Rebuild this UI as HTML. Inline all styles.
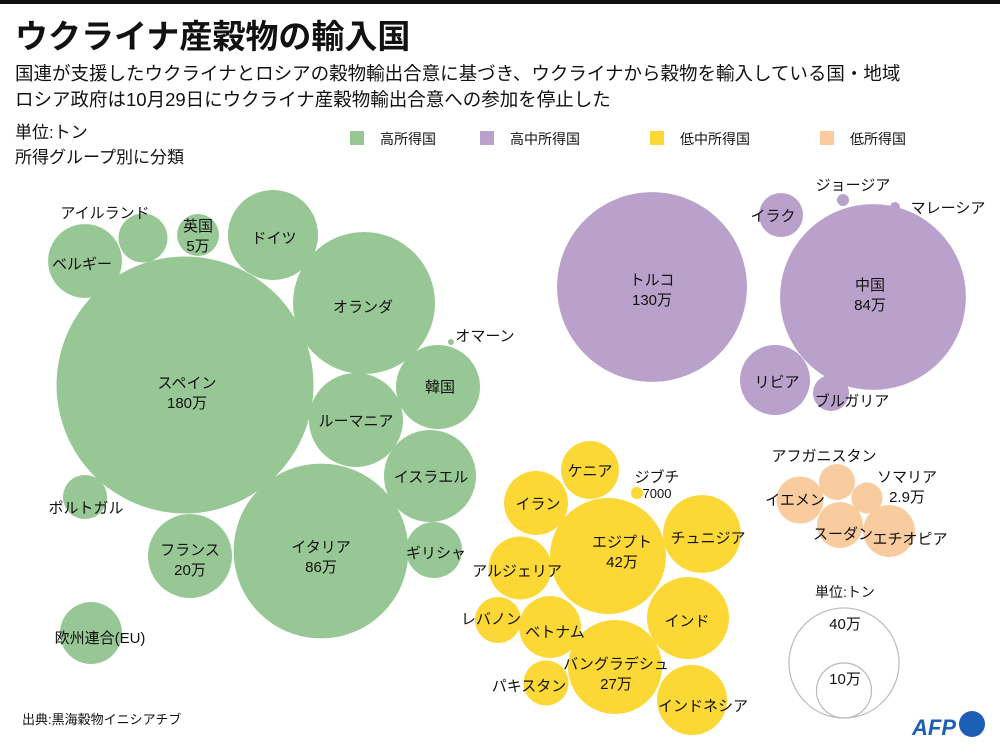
<!DOCTYPE html>
<html><head><meta charset="utf-8"><style>
body{margin:0;background:#fff;width:1000px;height:747px;overflow:hidden;font-family:"Liberation Sans","Noto Sans CJK JP",sans-serif;position:relative}
.t{position:absolute;white-space:nowrap;color:#111}
</style></head><body>
<div style="position:absolute;left:0;top:0;width:1000px;height:4px;background:#111"></div>
<div class="t" style="left:15px;top:10px;font-size:33px;font-weight:bold">ウクライナ産穀物の輸入国</div>
<div class="t" style="left:15px;top:60px;font-size:18.5px">国連が支援したウクライナとロシアの穀物輸出合意に基づき、ウクライナから穀物を輸入している国・地域</div>
<div class="t" style="left:15px;top:86px;font-size:18.5px">ロシア政府は10月29日にウクライナ産穀物輸出合意への参加を停止した</div>
<div class="t" style="left:15px;top:118px;font-size:17px">単位:トン</div>
<div class="t" style="left:15px;top:143px;font-size:17px">所得グループ別に分類</div>
<div class="t" style="left:22px;top:709px;font-size:13px">出典:黒海穀物イニシアチブ</div>
<svg id="chart" width="1000" height="747" style="position:absolute;left:0;top:0" font-family="Liberation Sans, Noto Sans CJK JP, sans-serif"></svg>
<script>
const names=["アイルランド","英国","ベルギー","ドイツ","オランダ","オマーン","スペイン","韓国","ルーマニア","イスラエル","ポルトガル","フランス","イタリア","ギリシャ","欧州連合(EU)","トルコ","イラク","ジョージア","マレーシア","中国","リビア","ブルガリア","ケニア","イラン","ジブチ","エジプト","チュニジア","アルジェリア","インド","レバノン","ベトナム","バングラデシュ","パキスタン","インドネシア","アフガニスタン","イエメン","ソマリア","スーダン","エチオピア"];
const groups=[0,0,0,0,0,0,0,0,0,0,0,0,0,0,0,1,1,1,1,1,1,1,2,2,2,2,2,2,2,2,2,2,2,2,3,3,3,3,3];
const values=[7.9,5.8,18,26.8,66.6,0.12,218,23.3,29.2,28,6.4,23.3,101,10.4,12.7,119,6.4,0.48,0.33,114,16.2,4.3,11.1,13.5,0.48,44.4,20,13.1,22.2,7,12.7,29.2,6.7,16.2,4.3,7.3,3.2,7,8.9];
const valueLabels=["","5万","","","","","180万","","","","","20万","86万","","","130万","","","","84万","","","","","7000","42万","","","","","","27万","","","","","2.9万","",""];
const groupNames=["高所得国","高中所得国","低中所得国","低所得国"];
const legendValues=[40,10];const legendLabels=["40万","10万"];
// layout (bubble centres and label anchors)
const centers=[[143,238],[198,235],[85,261],[273,235],[364,303],[451,342],[185,385],[438,387],[356,420],[430,476],[434,550],[85,497],[190,556],[321,551],[91,633]];
const cxy=[[143,238],[198,235],[85,261],[273,235],[364,303],[451,342],[185,385],[438,387],[356,420],[430,476],[85,497],[190,556],[321,551],[434,550],[91,633],[652,287],[781,215],[843,200],[895,207],[873,297],[775,380],[831,393],[590,470],[536,503],[637,493],[608,556],[702,534],[520,568],[688,618],[498,620],[550,627],[615,667],[546,683],[692,700],[837,482],[800,500],[867,498],[840,525],[889,531]];
const labelPos=[[105,212],[198,225],[82,263],[274,237],[363,306],[485,335],[187,382],[440,386],[356,420],[431,476],[86,507],[190,549],[321,546],[436,552],[100,637],[652,279],[773,215],[853,184],[948,207],[870,284],[777,381],[852,400],[590,470],[538,503],[657,476],[622,541],[708,537],[517,570],[687,620],[491,618],[555,631],[616,663],[529,685],[703,705],[824,455],[795,499],[907,476],[843,533],[910,538]];
const colors=["#97c794","#b9a1cc","#fbd835","#f8cc9e"];
const k=8.7;const rScale=v=>k*Math.sqrt(v);
const svg=document.getElementById('chart');const NS="http://www.w3.org/2000/svg";
function mk(t,a){const e=document.createElementNS(NS,t);for(const x in a)e.setAttribute(x,a[x]);svg.appendChild(e);return e;}
values.forEach((v,i)=>{const c=mk('circle',{cx:cxy[i][0],cy:cxy[i][1],r:rScale(v),fill:colors[groups[i]]});

});
names.forEach((n,i)=>{const [x,y]=labelPos[i];const two=valueLabels[i]!=="";
const t=mk('text',{x:x,y:y+6,'text-anchor':'middle','font-size':15,fill:'#111'});t.textContent=n;


if(two){const t2=mk('text',{x:x,y:y+(valueLabels[i]=="7000"?22:26),'text-anchor':'middle','font-size':valueLabels[i]=="7000"?13:15,fill:'#111'});t2.textContent=valueLabels[i];

}});
const legX=[350,480,650,820];
groupNames.forEach((g,i)=>{const r=mk('rect',{x:legX[i],y:131,width:14,height:14,fill:colors[i]});


const t=mk('text',{x:legX[i]+30,y:144,'font-size':14,fill:'#111'});t.textContent=g;

});
const lb=718;
legendValues.forEach((v,i)=>{const r=rScale(v);const c=mk('circle',{cx:844,cy:lb-r,r:r,fill:'none',stroke:'#bbb','stroke-width':1.2});


const t=mk('text',{x:845,y:lb-2*r+21,'text-anchor':'middle','font-size':15,fill:'#111'});t.textContent=legendLabels[i];

});
const u=mk('text',{x:845,y:597,'text-anchor':'middle','font-size':14,fill:'#111'});u.textContent="単位:トン";


const a=mk('text',{x:912,y:735,'font-size':22,'font-weight':'bold','font-style':'italic',fill:'#1d5fb4'});a.textContent="AFP";


const ac=mk('circle',{cx:972,cy:724,r:13,fill:'#1d5fb4'});


</script>
</body></html>
